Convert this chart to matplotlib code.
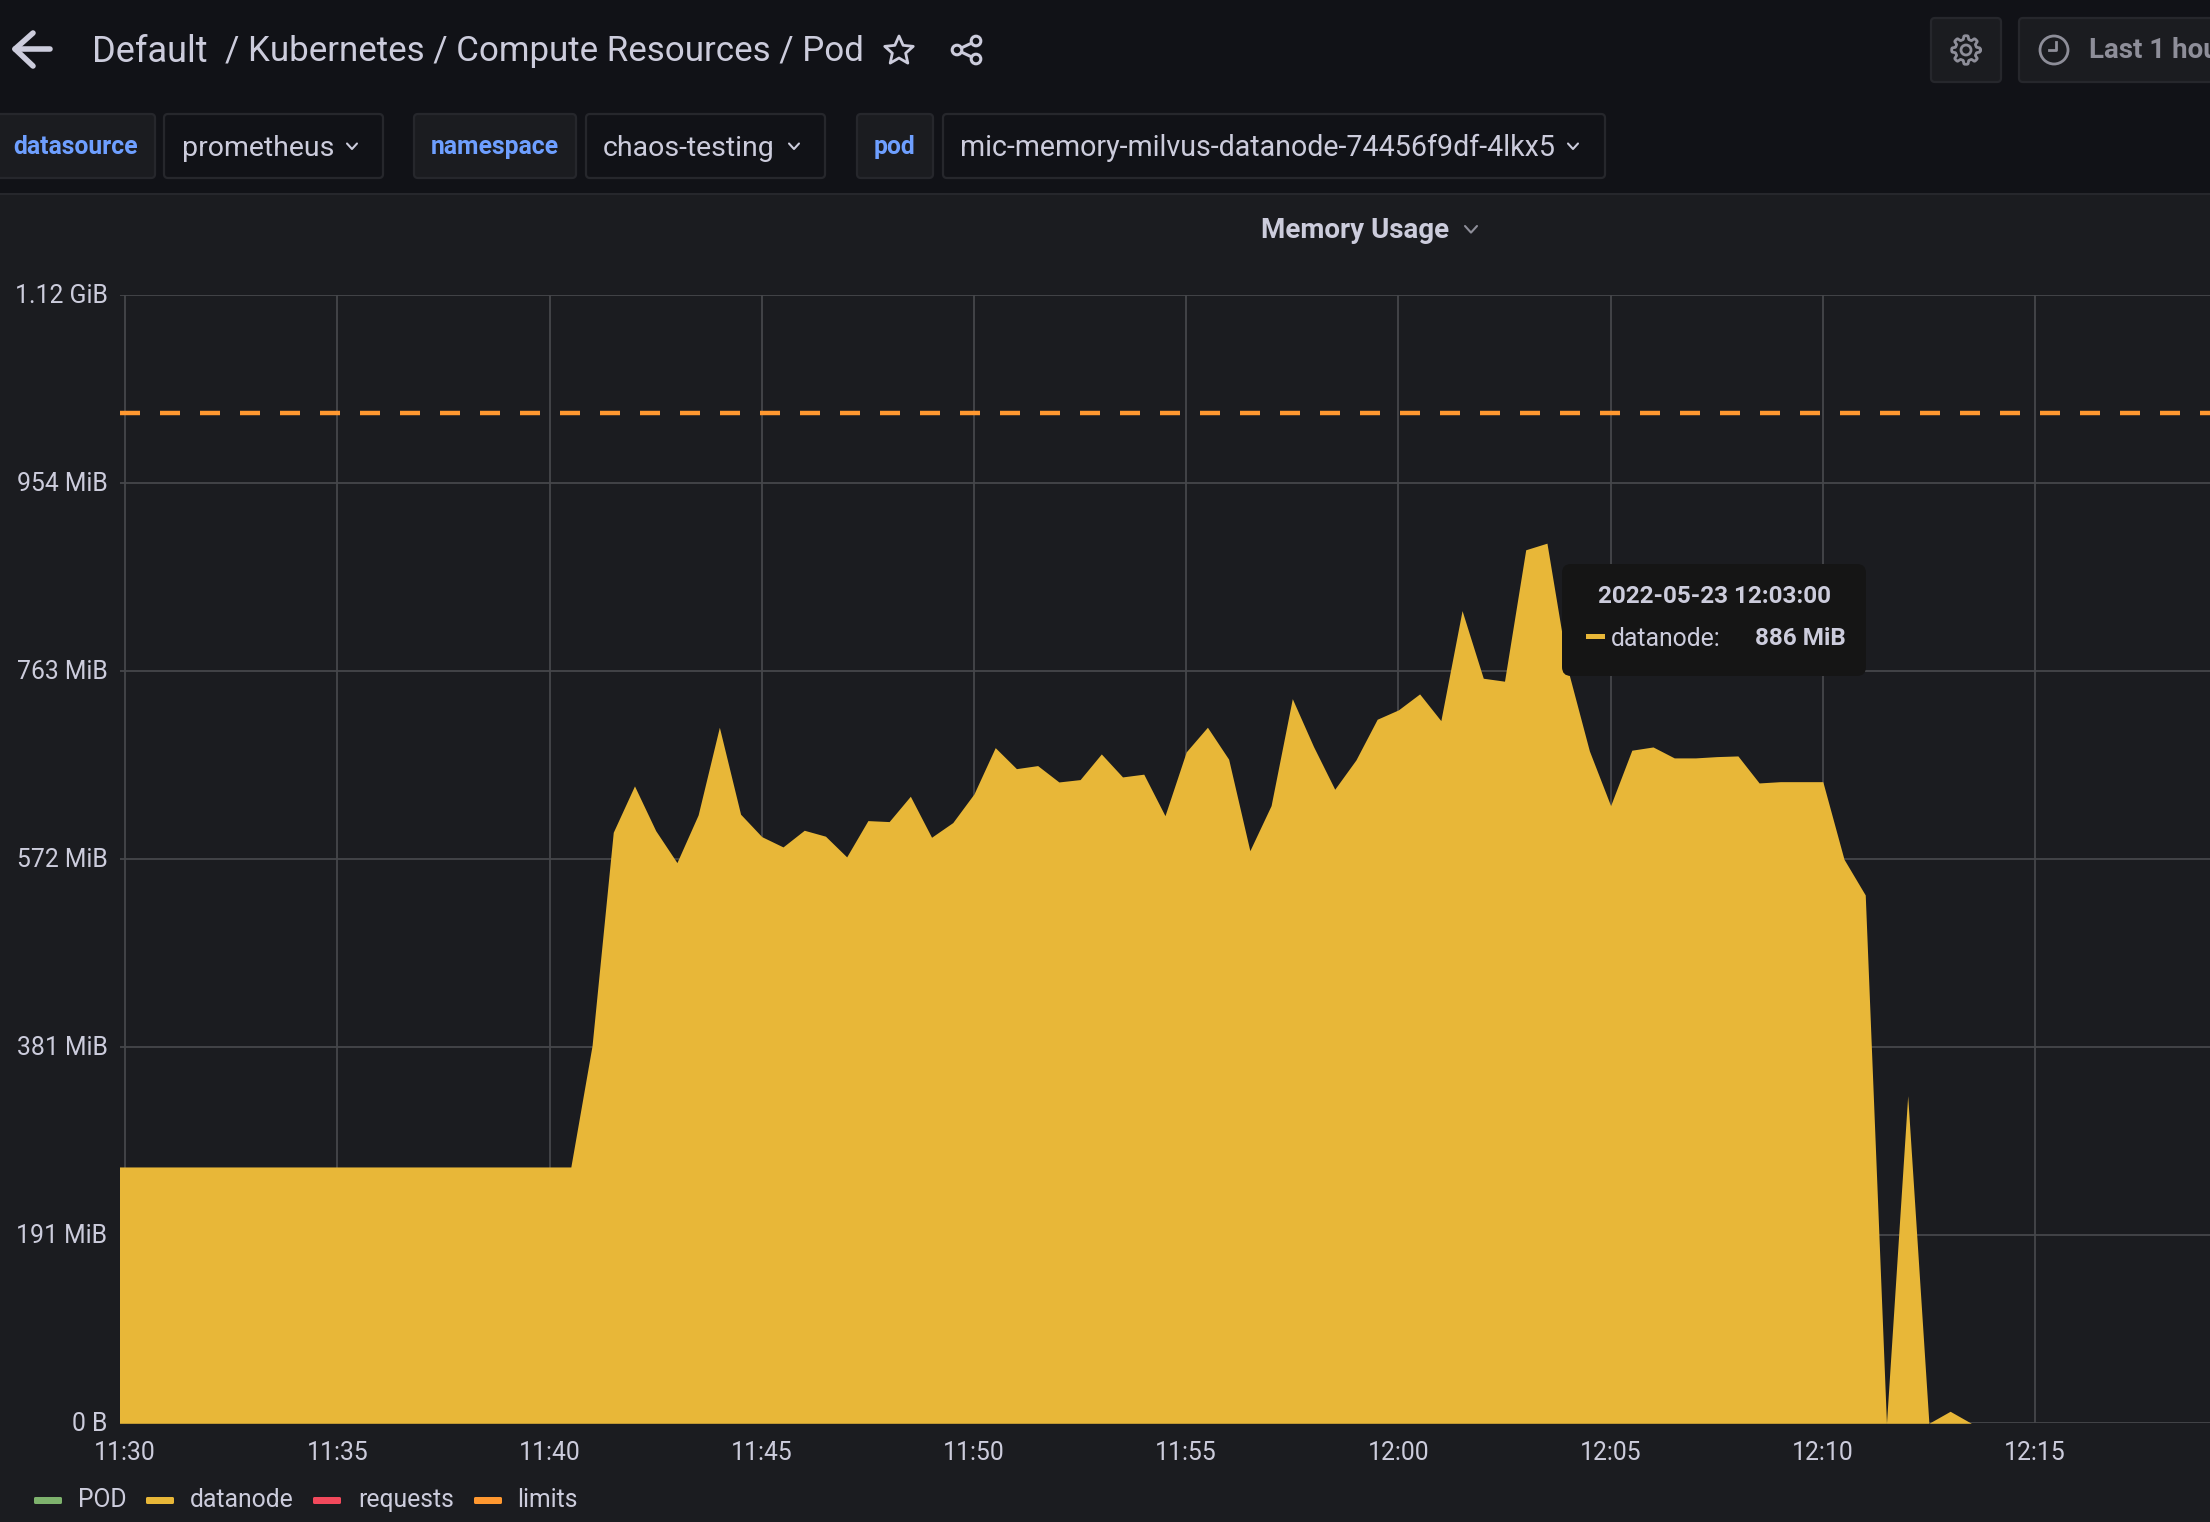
"""
Grafana 'Memory Usage' panel for the datanode pod, with the dashboard header above it.
"""
import numpy as np
import pandas as pd
import matplotlib
matplotlib.use("Agg")
import matplotlib.pyplot as plt
import matplotlib.dates as mdates
from matplotlib.patches import Rectangle, FancyBboxPatch, Circle, Polygon
from matplotlib.transforms import ScaledTranslation

W, H = 2210, 1522
CANVAS = "#111217"
PANEL = "#1b1c20"
GRID = "#46474b"
TEXT = "#ccccdc"
DIM = "#8e8e99"
BLUE = "#6e9fff"
BORDER = "#26272c"

plt.rcParams["font.family"] = ["Roboto", "DejaVu Sans"]

# datanode memory in MiB, one sample every 30 s from 11:29:30
datanode = [260] * 23 + [
    383, 599.5, 646.5, 601.1, 568.7, 617.1, 706.0, 617.8, 595.0, 584.6,
    601.5, 595.5, 574.5, 611.3, 610.3, 636.0, 594.4, 609.3, 638.4, 685.3,
    664.0, 667.1, 650.5, 652.9, 678.9, 655.6, 658.4, 616.3, 681.0, 706.0,
    673.6, 580.8, 626.5, 735.0, 686.4, 643.1, 672.9, 714.1, 723.6, 739.8,
    712.7, 824.3, 755.7, 752.7, 886.0, 892.7, 763.1, 682.0, 626.5, 682.7,
    686.0, 674.9, 674.9, 676.2, 676.9, 649.5, 650.8, 650.8, 650.8, 572.1,
    535.9, 0, 332.3, 0, 12.2, 0,
]
limit_mib = 1025
y_ticks = [0, 190.7, 381.5, 572.2, 762.9, 953.7, 1144.4]
y_labels = ["0 B", "191 MiB", "381 MiB", "572 MiB", "763 MiB", "954 MiB", "1.12 GiB"]
x_labels = ["11:30", "11:35", "11:40", "11:45", "11:50", "11:55",
            "12:00", "12:05", "12:10", "12:15"]
legend_names = ["POD", "datanode", "requests", "limits"]
legend_colors = ["#7eb26d", "#e8b738", "#f2495c", "#ff9830"]

times = pd.date_range("2022-05-23 11:29:30", periods=len(datanode), freq="30s")
x_ticks = pd.date_range("2022-05-23 11:30", periods=len(x_labels), freq="5min")

fig = plt.figure(figsize=(W / 100, H / 100), dpi=100, facecolor=CANVAS)

# chrome layer in pixel coordinates
bg = fig.add_axes([0, 0, 1, 1], zorder=0)
bg.set_xlim(0, W)
bg.set_ylim(H, 0)
bg.axis("off")
bg.add_patch(Rectangle((0, 194), W, H - 194, fc=PANEL, ec="none"))
bg.plot([0, W], [194, 194], color=BORDER, lw=1.5)

# plot area
L, R, T, B = 120, 2210, 295, 1423.3
X0 = 125.2  # pixel of the 11:30 gridline
ax = fig.add_axes([L / W, 1 - B / H, (R - L) / W, (B - T) / H], zorder=1)
ax.set_facecolor("none")
t0 = mdates.date2num(x_ticks[0])
per_px = (mdates.date2num(x_ticks[1]) - t0) / 212.2
ax.set_xlim(t0 - (X0 - L) * per_px, t0 + (R - X0) * per_px)
ax.set_ylim(0, 1144.4)
ax.fill_between(times, 0, datanode, color="#e8b738", lw=0, zorder=3)
ax.axhline(limit_mib, color="#ff9830", lw=3.2, dashes=(4.5, 4.5), dash_capstyle="butt", zorder=4)
ax.set_yticks(y_ticks, y_labels)
ax.set_xticks(x_ticks, x_labels)
ax.grid(True, color=GRID, lw=1.3, zorder=1)
ax.set_axisbelow(True)
for s in ax.spines.values():
    s.set_visible(False)
ax.tick_params(length=0, colors=TEXT, labelsize=17.8)
ax.tick_params(axis="y", pad=9)
ax.tick_params(axis="x", pad=13)
# y labels sit a little above their gridlines
nudge = ScaledTranslation(0, 1.5 / 100, fig.dpi_scale_trans)
for t in ax.get_yticklabels():
    t.set_transform(t.get_transform() + nudge)


def box(x0, y0, x1, y1, fc, ec=BORDER, r=4, z=2, target=None):
    p = FancyBboxPatch((x0 + r, y0 + r), x1 - x0 - 2 * r, y1 - y0 - 2 * r,
                       boxstyle=f"round,pad={r},rounding_size={r}",
                       fc=fc, ec=ec, lw=1.6, zorder=z)
    (target or bg).add_patch(p)


def chevron(x, y, s=5, color=TEXT):
    bg.plot([x - s, x, x + s], [y - s * 0.5, y + s * 0.6, y - s * 0.5],
            color=color, lw=1.5, solid_capstyle="round", zorder=3)


def label(x, y, s, size, color=TEXT, weight="normal", ha="left"):
    bg.text(x, y, s, fontsize=size, color=color, fontweight=weight,
            ha=ha, va="center", zorder=3)


# title row
bg.plot([15, 50], [49, 49], color=TEXT, lw=4, solid_capstyle="round")
bg.plot([33, 15, 33], [33, 49, 66], color=TEXT, lw=4,
        solid_capstyle="round", solid_joinstyle="round")
label(92, 52, "Default", 26)
label(225, 52, "/ Kubernetes / Compute Resources / Pod", 25.1)

# star
ang = np.linspace(-np.pi / 2, 1.5 * np.pi, 11)[:-1]
rad = np.where(np.arange(10) % 2 == 0, 15, 7)
bg.add_patch(Polygon(np.c_[899 + rad * np.cos(ang), 51 + rad * np.sin(ang)],
                     closed=True, fc="none", ec=TEXT, lw=2, joinstyle="round"))
# share
bg.plot([976, 957, 976], [41, 50, 59], color=TEXT, lw=2.2)
for cx, cy in [(976, 41), (957, 50), (976, 59)]:
    bg.add_patch(Circle((cx, cy), 4.8, fc=CANVAS, ec=TEXT, lw=2.2, zorder=3))

# settings and time buttons
box(1931, 18, 2001, 82, "#1b1c20")
box(2019, 18, 2260, 82, "#1b1c20")
a = np.linspace(0, 2 * np.pi, 161)
gear_r = 12.5 + 1.8 * np.tanh(3 * np.cos(8 * a))
bg.plot(1966 + gear_r * np.cos(a), 50 + gear_r * np.sin(a), color=DIM, lw=2, zorder=3)
bg.add_patch(Circle((1966, 50), 5, fc="none", ec=DIM, lw=2, zorder=3))
bg.add_patch(Circle((2054, 50), 14, fc="none", ec=DIM, lw=2, zorder=3))
bg.plot([2056, 2056, 2049], [42, 50, 50], color=DIM, lw=2, zorder=3)
label(2089, 51, "Last 1 hour", 20, DIM, "bold")

# variable row
for x0, x1 in [(-8, 155), (414, 576), (857, 933)]:
    box(x0, 114, x1, 178, "#1b1c20")
for x0, x1 in [(164, 383), (586, 825), (943, 1605)]:
    box(x0, 114, x1, 178, CANVAS)
label(13.5, 147, "datasource", 17.8, BLUE, "bold")
label(431, 147, "namespace", 17.8, BLUE, "bold")
label(874, 147, "pod", 17.8, BLUE, "bold")
label(182, 148, "prometheus", 20.5)
label(603, 148, "chaos-testing", 20.5)
label(959.5, 148, "mic-memory-milvus-datanode-74456f9df-4lkx5", 20.6)
chevron(352, 146)
chevron(794, 146)
chevron(1573, 146)

# panel title
label(1261, 230, "Memory Usage", 20, TEXT, "bold")
chevron(1471, 229, 6, DIM)

# legend
swatch_x = [34, 146, 313, 474]
text_x = [78, 190, 358, 517]
for sx, tx, name, col in zip(swatch_x, text_x, legend_names, legend_colors):
    bg.add_patch(FancyBboxPatch((sx + 1, 1498), 26, 5, boxstyle="round,pad=1,rounding_size=1.5",
                                fc=col, ec="none", zorder=3))
    label(tx, 1500, name, 17.8)

# tooltip on top of the plot
over = fig.add_axes([0, 0, 1, 1], zorder=2)
over.set_xlim(0, W)
over.set_ylim(H, 0)
over.axis("off")
box(1562, 564, 1866, 676, "#151515", ec="none", r=9, target=over)
over.text(1714, 596.5, "2022-05-23 12:03:00", fontsize=17.5, color=TEXT, fontweight="bold",
          ha="center", va="center", zorder=3)
over.add_patch(Rectangle((1586, 634), 19, 5, fc="#e8b738", ec="none", zorder=3))
over.text(1611, 638.5, "datanode:", fontsize=17.8, color=TEXT, ha="left", va="center", zorder=3)
over.text(1846, 638.5, "886 MiB", fontsize=17.5, color=TEXT, fontweight="bold", ha="right", va="center", zorder=3)

fig.savefig("out.png", dpi=100, facecolor=CANVAS)
